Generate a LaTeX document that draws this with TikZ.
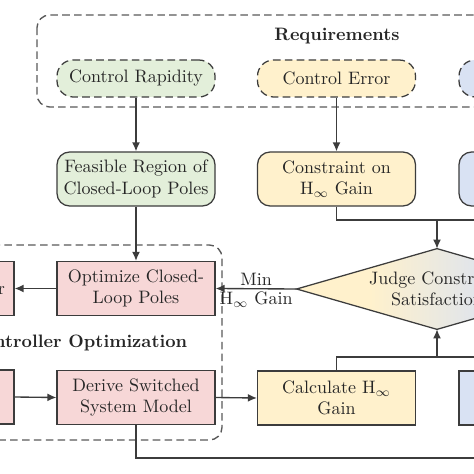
\documentclass[tikz,border=0pt]{standalone}
\usetikzlibrary{arrows.meta}
\newcommand\pxu{0.5556pt}
\definecolor{cgreen}{HTML}{E3EFDA}
\definecolor{cyellow}{HTML}{FFF1CC}
\definecolor{cblue}{HTML}{D9E2F3}
\definecolor{cpink}{HTML}{F7D7D7}
\definecolor{lc}{HTML}{3C3C3C}
\definecolor{gc}{HTML}{5A5A5A}
\definecolor{tc}{HTML}{262626}
\pgfdeclarehorizontalshading{ybshade}{100bp}{color(0bp)=(cyellow); color(38bp)=(cyellow); color(62bp)=(cblue); color(100bp)=(cblue)}
\tikzset{
  base/.style={draw=lc, line width=0.7pt, text=tc, align=center, inner sep=2pt},
  reqbox/.style={base, dash pattern=on 4.2pt off 2.4pt, rounded corners=9pt, minimum width=158*\pxu, minimum height=37*\pxu},
  softbox/.style={base, rounded corners=7pt, minimum width=158*\pxu, minimum height=54*\pxu},
  hardbox/.style={base, minimum width=158*\pxu, minimum height=54*\pxu},
  groupbox/.style={draw=gc, line width=0.75pt, dash pattern=on 4.2pt off 2.4pt, rounded corners=7pt},
  conn/.style={draw=lc, line width=0.75pt},
  arr/.style={conn, -{Latex[length=5pt,width=4.4pt]}},
  grouplabel/.style={font=\bfseries, text=tc},
}
\begin{document}
\begin{tikzpicture}[x=0.5556pt, y=-0.5556pt]
\useasboundingbox (0,0) rectangle (474,474);
\clip (0,0) rectangle (474,474);
\fill[white] (0,0) rectangle (474,474);

% group boxes
\draw[groupbox] (37,15) rectangle (760,107);
\node[grouplabel] (reqlabel) at (337,36) {Requirements};
\draw[groupbox] (-300,245) rectangle (222,440);
\node[grouplabel, anchor=east] (optlabel) at (193.5,343) {Controller Optimization};

% requirement nodes
\node[reqbox, fill=cgreen] (CR) at (136,78.5) {Control Rapidity};
\node[reqbox, fill=cyellow] (CE) at (336.5,78.5) {Control Error};
\node[reqbox, fill=cblue] (CB) at (538,78.5) {};

% middle row
\node[softbox, fill=cgreen] (FR) at (136,179) {Feasible Region of\\Closed-Loop Poles};
\node[softbox, fill=cyellow] (CH) at (336.5,179) {Constraint on\\H$_\infty$ Gain};
\node[softbox, fill=cblue] (CBM) at (538,179) {};

% judge diamond
\node[minimum width=280*\pxu, minimum height=80*\pxu, inner sep=0pt, align=center, text=tc] (JD) at (437,289) {};
\draw[draw=lc, line width=0.7pt, shade, shading=ybshade] (JD.north) -- (JD.east) -- (JD.south) -- (JD.west) -- cycle;
\node[align=center, text=tc, inner sep=0pt] (JDT) at (JD.center) {Judge Constraint\\Satisfaction};

% lower rows
\node[hardbox, fill=cpink] (OPT) at (136,288.5) {Optimize Closed-\\Loop Poles};
\node[hardbox, fill=cpink, text width=140*\pxu, align=right] (LT) at (-65,288.5) {Controller};
\node[hardbox, fill=cpink] (DSM) at (136,397.5) {Derive Switched\\System Model};
\node[hardbox, fill=cpink] (LB) at (-65,397) {};
\node[hardbox, fill=cyellow] (CALC) at (336.5,398) {Calculate H$_\infty$\\Gain};
\node[hardbox, fill=cblue] (BB) at (538,398) {};

% junctions
\coordinate (j1) at (437,220);
\coordinate (j2) at (437,357);
\coordinate (fb) at (620,458);

% connectors
\draw[arr] (CR.south) -- (FR.north);
\draw[arr] (CE.south) -- (CH.north);
\draw[conn] (CH.south) |- (j1);
\draw[conn] (CBM.south) |- (j1);
\draw[arr] (j1) -- (JD.north);
\draw[conn] (CALC.north) |- (j2);
\draw[conn] (BB.north) |- (j2);
\draw[arr] (j2) -- (JD.south);
\draw[arr] (JD.west) -- node[above, inner sep=1.5pt, text=tc] (minlab) {Min} node[below, inner sep=1.5pt, text=tc] (hlab) {H$_\infty$ Gain} (OPT.east);
\draw[arr] (FR.south) -- (OPT.north);
\draw[arr] (OPT.west) -- (LT.east);
\draw[arr] (LB.east) -- (DSM.west);
\draw[arr] (DSM.east) -- (CALC.west);
\draw[conn] (DSM.south) |- (fb);
\end{tikzpicture}
\end{document}
